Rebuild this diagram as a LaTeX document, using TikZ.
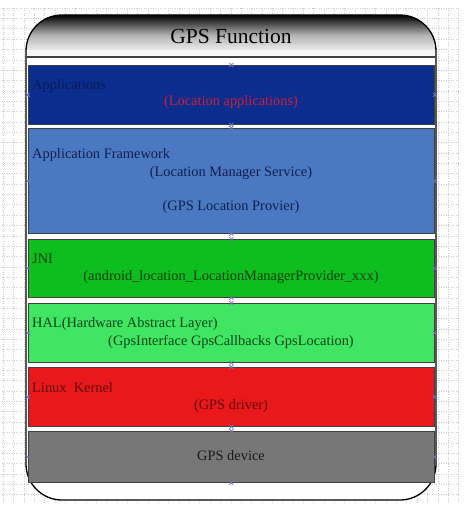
\documentclass[tikz,border=0pt]{standalone}
\usepackage{fontspec}
\setmainfont{Liberation Serif}
\begin{document}
\begin{tikzpicture}[x=1pt,y=-1pt,
  layer/.style={draw=black!75, line width=0.8pt, minimum width=406pt, anchor=north west, inner sep=0pt},
  lbl/.style={font=\fontsize{14.4}{16}\selectfont, anchor=west, inner sep=0pt},
  sub/.style={font=\fontsize{14.4}{16}\selectfont, inner sep=0pt},
  handle/.style={draw=blue!35!gray!80, line width=0.7pt}
]
\useasboundingbox (0,0) rectangle (474,505);
\fill[white] (0,0) rectangle (474,505);
% grid
\foreach \i in {0,...,44} {\draw[gray!40, dotted, line width=0.4pt] (3+10.35*\i,8) -- (3+10.35*\i,505);}
\foreach \j in {0,...,47} {\draw[gray!40, dotted, line width=0.4pt] (2,8+10.35*\j) -- (460,8+10.35*\j);}
% outer box
\begin{scope}
\clip[rounded corners=36pt] (26,15) rectangle (436,500);
\fill[white] (26,15) rectangle (436,500);
\shade[top color=black, bottom color=white, middle color=gray!60] (26,15) rectangle (436,55);
\fill[white!93!gray] (26,50) rectangle (436,57);
\end{scope}
\draw[black, line width=1.3pt, rounded corners=36pt] (26,15) rectangle (436,500);
\draw[black!75, line width=2pt] (26,57) -- (436,57);
\node[font=\fontsize{21.5}{24}\selectfont] (title) at (231,36) {GPS Function};
% layers
\node[layer, fill={rgb,255:red,11;green,46;blue,142}, minimum height=59pt] (app) at (28,65) {};
\node[layer, fill={rgb,255:red,74;green,121;blue,194}, minimum height=105pt] (fw) at (28,128) {};
\node[layer, fill={rgb,255:red,13;green,190;blue,30}, minimum height=58pt] (jni) at (28,239) {};
\node[layer, fill={rgb,255:red,64;green,229;blue,98}, minimum height=59pt] (hal) at (28,303) {};
\node[layer, fill={rgb,255:red,232;green,24;blue,27}, minimum height=59pt] (lk) at (28,367) {};
\node[layer, fill={rgb,255:red,119;green,119;blue,119}, minimum height=51pt] (dev) at (28,431) {};
% texts
\node[lbl, text={rgb,255:red,10;green,25;blue,90}] (appl) at (32,86) {Applications};
\node[sub, text={rgb,255:red,200;green,30;blue,60}] (apps) at (231,102) {(Location applications)};
\node[lbl, text={rgb,255:red,16;green,32;blue,80}] (fwl) at (32,155) {Application Framework};
\node[sub, text={rgb,255:red,16;green,32;blue,80}] (fws1) at (231,173) {(Location Manager Service)};
\node[sub, text={rgb,255:red,16;green,32;blue,80}] (fws2) at (231,207) {(GPS Location Provier)};
\node[lbl, text={rgb,255:red,10;green,64;blue,16}] (jnil) at (32,259) {JNI};
\node[sub, text={rgb,255:red,10;green,64;blue,16}] (jnis) at (231,277) {(android\_location\_LocationManagerProvider\_xxx)};
\node[lbl, text={rgb,255:red,10;green,70;blue,26}] (hall) at (32,324) {HAL(Hardware Abstract Layer)};
\node[sub, text={rgb,255:red,10;green,70;blue,26}] (hals) at (231,342) {(GpsInterface GpsCallbacks GpsLocation)};
\node[lbl, text={rgb,255:red,100;green,10;blue,10}] (lkl) at (32,388) {Linux\ \ Kernel};
\node[sub, text={rgb,255:red,100;green,10;blue,10}] (lks) at (231,406) {(GPS driver)};
\node[sub, text={rgb,255:red,26;green,26;blue,26}] (devs) at (231,456) {GPS device};
% selection handles
\foreach \n in {app,fw,jni,hal,lk,dev} {
  \foreach \a in {north,south,east,west} {
    \draw[handle] ([shift={(-2pt,-2pt)}]\n.\a) -- ([shift={(2pt,2pt)}]\n.\a);
    \draw[handle] ([shift={(-2pt,2pt)}]\n.\a) -- ([shift={(2pt,-2pt)}]\n.\a);
  }
}
\end{tikzpicture}
\end{document}
